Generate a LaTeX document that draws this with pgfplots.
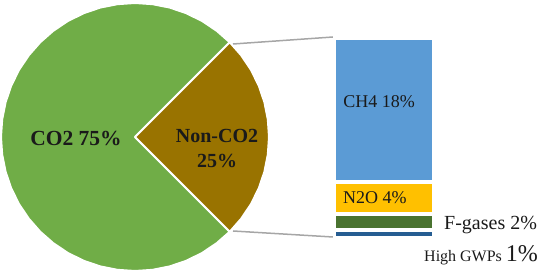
\documentclass[border=0pt]{standalone}
\usepackage{fontspec}
\setmainfont{Liberation Serif}
\usepackage{pgfplots}
\pgfplotsset{compat=1.18}
\definecolor{co2green}{HTML}{70AD47}
\definecolor{nonbrown}{HTML}{997300}
\definecolor{ch4blue}{HTML}{5B9BD5}
\definecolor{n2oyellow}{HTML}{FFC000}
\definecolor{fgreen}{HTML}{4A7330}
\definecolor{gwpblue}{HTML}{265D92}
\definecolor{linkgray}{HTML}{A6A6A6}
\definecolor{txt}{HTML}{1A1A1A}

\begin{document}
\begin{tikzpicture}
\useasboundingbox (0,0) rectangle (550pt,278pt);
% pie: CO2 75% (45..315 deg), Non-CO2 25% (-45..45 deg)
\begin{axis}[
    at={(0,0)}, anchor=south west,
    width=550pt, height=278pt, scale only axis,
    xmin=-135, xmax=415, ymin=-141, ymax=137,
    hide axis, clip=false,
]
\addplot[fill=co2green, draw=white, line width=2pt, line join=round, data cs=polar]
coordinates {
    (0,0) (45,134) (52.5,134) (60,134) (67.5,134) (75,134) (82.5,134)
    (90,134) (97.5,134) (105,134) (112.5,134) (120,134) (127.5,134)
    (135,134) (142.5,134) (150,134) (157.5,134) (165,134) (172.5,134)
    (180,134) (187.5,134) (195,134) (202.5,134) (210,134) (217.5,134)
    (225,134) (232.5,134) (240,134) (247.5,134) (255,134) (262.5,134)
    (270,134) (277.5,134) (285,134) (292.5,134) (300,134) (307.5,134)
    (315,134)
} -- cycle;
\addplot[fill=nonbrown, draw=white, line width=2pt, line join=round, data cs=polar]
coordinates {
    (0,0) (-45,134) (-37.5,134) (-30,134) (-22.5,134) (-15,134) (-7.5,134)
    (0,134) (7.5,134) (15,134) (22.5,134) (30,134) (37.5,134) (45,134)
} -- cycle;
% connectors to the breakdown bar
\addplot[linkgray, line width=1.5pt] coordinates {(98,93) (198,100)};
\addplot[linkgray, line width=1.5pt] coordinates {(98,-94) (198,-100)};

\node[txt, font=\fontsize{21.5}{25}\selectfont\bfseries] at (axis cs:-59,-1) {CO2 75\%};
\node[txt, font=\fontsize{20}{25}\selectfont\bfseries, align=center] at (axis cs:82,-12) {Non-CO2\\25\%};
\node[txt, font=\fontsize{20}{24}\selectfont, anchor=west, inner sep=0pt] at (axis cs:309,-88) {F-gases 2\%};
\node[txt, anchor=base west, inner sep=0pt] at (axis cs:289,-125)
    {\fontsize{16}{19}\selectfont High GWPs \fontsize{24}{28}\selectfont 1\%};
\end{axis}

% breakdown of non-CO2 as one stacked bar
\begin{axis}[
    at={(334.25pt,40.25pt)}, anchor=south west,
    width=99.5pt, height=199.5pt, scale only axis,
    xmin=-0.5, xmax=0.5, ymin=0, ymax=25,
    ybar stacked, bar width=99.5pt,
    hide axis, clip=false,
]
\addplot[fill=gwpblue, draw=white, line width=3.5pt] coordinates {(0,1)};
\addplot[fill=fgreen, draw=white, line width=3.5pt] coordinates {(0,2)};
\addplot[fill=n2oyellow, draw=white, line width=3.5pt] coordinates {(0,4)};
\addplot[fill=ch4blue, draw=white, line width=3.5pt] coordinates {(0,18)};
\end{axis}
% labels on top of the bar segments
\node[txt, font=\fontsize{18}{22}\selectfont] at (379pt,176pt) {CH4 18\%};
\node[txt, font=\fontsize{18}{22}\selectfont, anchor=west, inner sep=0pt] at (343pt,80pt) {N2O 4\%};
\end{tikzpicture}
\end{document}
